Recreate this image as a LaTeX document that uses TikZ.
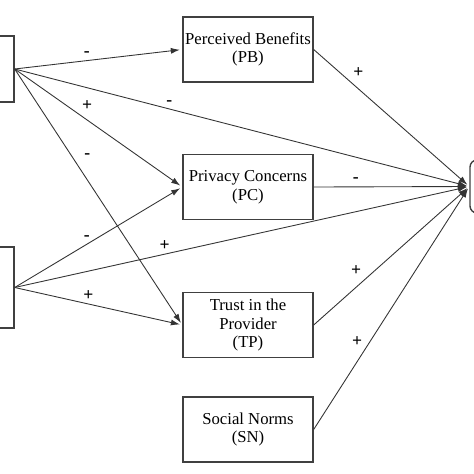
\documentclass[tikz,border=0pt]{standalone}
\usepackage{fontspec}
\setmainfont{Liberation Serif}
\usetikzlibrary{arrows.meta,positioning}

\begin{document}
\begin{tikzpicture}[x=0.02cm,y=-0.02cm,
  box/.style={draw=black!75,line width=0.8pt,minimum width=2.6cm,minimum height=1.3cm,
    align=center,inner sep=1pt,font=\rmfamily\fontsize{9.5}{10.6}\selectfont},
  link/.style={-{Latex[length=1.8mm,width=1.2mm]},line width=0.5pt,draw=black!80,shorten >=0.5mm},
  sign/.style={font=\bfseries\fontsize{10}{12}\selectfont,inner sep=2pt}]
\useasboundingbox (0,0) rectangle (474,474);
% constructs
\node[box,minimum width=1cm,minimum height=1.32cm] (ind1) at (-11,69) {};
\node[box,minimum width=1cm,minimum height=1.62cm] (ind2) at (-11,287.5) {};
\node[box] (pb) at (248,49.5) {Perceived Benefits\\(PB)};
\node[box] (pc) at (248,187) {Privacy Concerns\\(PC)};
\node[box] (tp) at (248,325) {Trust in the\\Provider\\(TP)};
\node[box] (sn) at (248,429.5) {Social Norms\\(SN)};
\node[box,rounded corners=4pt,minimum width=1.2cm,minimum height=1.06cm] (out) at (500,186.5) {};
% paths
\draw[link] (ind1.east) -- (pb.west) node[sign,pos=0.43,above] {-};
\draw[link] (ind1.east) -- (out.west) node[sign,pos=0.34,above] {-};
\draw[link] (ind1.east) -- (pc.west) node[sign,pos=0.40,above right=1pt and -2pt] {+};
\draw[link] (ind1.east) -- (tp.west) node[sign,pos=0.34,right=5pt] {-};
\draw[link] (ind2.east) -- (pc.west) node[sign,pos=0.43,above] {-};
\draw[link] (ind2.east) -- (out.west) node[sign,pos=0.33,above] {+};
\draw[link] (ind2.east) -- (tp.west) node[sign,pos=0.44,above] {+};
\draw[link] (pb.east) -- (out.west) node[sign,pos=0.23,above right] {+};
\draw[link] (pc.east) -- (out.west) node[sign,pos=0.27,above] {-};
\draw[link] (tp.east) -- (out.west) node[sign,pos=0.33,above left] {+};
\draw[link] (sn.east) -- (out.west) node[sign,pos=0.36,left=2pt] {+};
\end{tikzpicture}
\end{document}
